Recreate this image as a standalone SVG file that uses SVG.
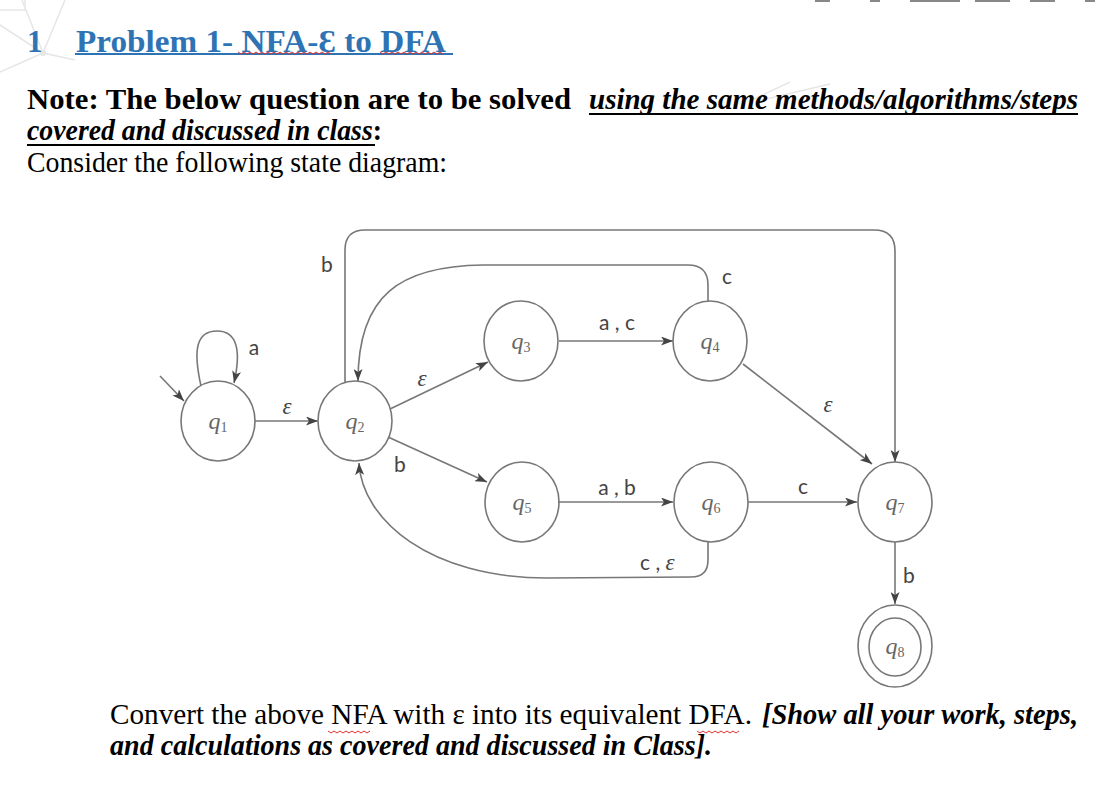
<svg xmlns="http://www.w3.org/2000/svg" width="1104" height="785" viewBox="0 0 1104 785">
<style>
.title{font-family:"Liberation Serif",serif;font-weight:bold;font-size:31px;fill:#2E74B5}
.tx{font-family:"Liberation Serif",serif;font-size:29px;fill:#000}
.b{font-weight:bold}
.bi{font-weight:bold;font-style:italic}
.st{fill:none;stroke:#777;stroke-width:1.6}
.ed{fill:none;stroke:#777;stroke-width:1.6}
.lb{font-family:Lato,"Open Sans",sans-serif;font-size:21px;fill:#444;text-anchor:middle}
.ep{font-family:"Liberation Serif",serif;font-style:italic;font-size:23px;fill:#444;text-anchor:middle}
.q{font-family:"Liberation Serif",serif;font-style:italic;font-size:24px;fill:#666;text-anchor:middle}
.sub{font-style:normal;font-size:14px}
.wm{stroke:#e6e6e6;stroke-width:1.5;fill:none}
.sq{fill:none;stroke:#e03030;stroke-width:1}
</style>
<defs>
<marker id="ah" viewBox="0 0 12 9" refX="12" refY="4.5" markerWidth="12" markerHeight="9" markerUnits="userSpaceOnUse" orient="auto">
<path d="M0,0 L12,4.5 L0,9 L3,4.5 z" fill="#444"/>
</marker>
</defs>
<rect width="1104" height="785" fill="#fff"/>
<g id="decor">
<path class="wm" d="M43,53 L0,25 M43,53 L22,0 M43,53 L65,0 M43,53 L0,72 M43,53 L75,60 M0,10 L25,10 L25,0"/>
<circle cx="43" cy="53" r="3" fill="#e6e6e6"/>
<path class="wm" d="M752,100 L790,82 M762,100 L830,84"/>
<g fill="#888">
<rect x="815" y="0" width="15" height="2"/>
<rect x="870" y="0" width="10" height="2"/>
<rect x="910" y="0" width="50" height="2"/>
<rect x="975" y="0" width="35" height="2"/>
<rect x="1030" y="0" width="25" height="2"/>
<rect x="1085" y="0" width="10" height="2"/>
</g>
</g>
<g id="heading">
<text class="title" x="27" y="52">1</text>
<text class="title" x="76" y="52" textLength="370" lengthAdjust="spacingAndGlyphs">Problem 1- NFA-Ɛ to DFA</text>
<line x1="75" y1="54" x2="453" y2="54" stroke="#2E74B5" stroke-width="2"/>
<path class="sq" d="M238,52 l3,2 l3,-2 l3,2 l3,-2 l3,2 l3,-2 l3,2 l3,-2 l3,2 l3,-2 l3,2 l3,-2 l3,2 l3,-2 l3,2 l3,-2 l3,2 l3,-2 l3,2 l3,-2 l3,2 l3,-2 l3,2 l3,-2 l3,2 l3,-2 l3,2 l3,-2 l3,2 l3,-2 l3,2"/>
<path class="sq" d="M380,52 l3,2 l3,-2 l3,2 l3,-2 l3,2 l3,-2 l3,2 l3,-2 l3,2 l3,-2 l3,2 l3,-2 l3,2 l3,-2 l3,2 l3,-2 l3,2 l3,-2 l3,2 l3,-2 l3,2"/>
</g>
<g id="note">
<text class="tx b" x="27" y="109" textLength="544" lengthAdjust="spacingAndGlyphs">Note: The below question are to be solved</text>
<text class="tx bi" x="589" y="109" textLength="489" lengthAdjust="spacingAndGlyphs">using the same methods/algorithms/steps</text>
<line x1="589" y1="114" x2="1078" y2="114" stroke="#000" stroke-width="2"/>
<text class="tx b" x="27" y="140" textLength="355" lengthAdjust="spacingAndGlyphs"><tspan font-style="italic">covered and discussed in class</tspan>:</text>
<line x1="27" y1="145" x2="375" y2="145" stroke="#000" stroke-width="2"/>
<text class="tx" x="27" y="172" textLength="420" lengthAdjust="spacingAndGlyphs">Consider the following state diagram:</text>
</g>
<g id="connectors">
<path class="ed" d="M160,376 L184,401" marker-end="url(#ah)"/>
<path class="ed" d="M201,386 C193,350 196,331 217,331 C238,331 241,352 234,383" marker-end="url(#ah)"/>
<path class="ed" d="M255,421 L318,421" marker-end="url(#ah)"/>
<path class="ed" d="M390,409 L488,362" marker-end="url(#ah)"/>
<path class="ed" d="M345,382 L345,250 Q345,230 365,230 L874,230 Q895,230 895,251 L895,462" marker-end="url(#ah)"/>
<path class="ed" d="M708,301 L708,285 Q708,265 688,265 L483,265 C400,266 358,295 358,381" marker-end="url(#ah)"/>
<path class="ed" d="M559,341 L673,341" marker-end="url(#ah)"/>
<path class="ed" d="M743,364 L872,464" marker-end="url(#ah)"/>
<path class="ed" d="M388,437 L487,482" marker-end="url(#ah)"/>
<path class="ed" d="M558,502 L673,502" marker-end="url(#ah)"/>
<path class="ed" d="M748,502 L857,502" marker-end="url(#ah)"/>
<path class="ed" d="M708,542 L708,560 Q708,577 691,577 L547,578 C430,578 362,520 359,463" marker-end="url(#ah)"/>
<path class="ed" d="M895,542 L895,604" marker-end="url(#ah)"/>
</g>
<g id="edge-labels">
<text class="lb" x="254" y="355">a</text>
<text class="ep" x="287" y="414">ε</text>
<text class="lb" x="327" y="272">b</text>
<text class="ep" x="422" y="386">ε</text>
<text class="lb" x="617" y="330">a , c</text>
<text class="lb" x="727" y="284">c</text>
<text class="ep" x="828" y="412">ε</text>
<text class="lb" x="400" y="472">b</text>
<text class="lb" x="617" y="495">a , b</text>
<text class="lb" x="803" y="494">c</text>
<text x="640" y="570"><tspan class="lb" style="text-anchor:start">c , </tspan><tspan class="ep" style="text-anchor:start">ε</tspan></text>
<text class="lb" x="909" y="583">b</text>
</g>
<g id="q1"><ellipse class="st" cx="218" cy="421" rx="37" ry="40" fill="#fff"/><text class="q" x="218" y="429">q<tspan class="sub" dy="3">1</tspan></text></g>
<g id="q2"><ellipse class="st" cx="355" cy="421" rx="37" ry="40" fill="#fff"/><text class="q" x="355" y="429">q<tspan class="sub" dy="3">2</tspan></text></g>
<g id="q3"><ellipse class="st" cx="521" cy="341" rx="37" ry="40" fill="#fff"/><text class="q" x="521" y="349">q<tspan class="sub" dy="3">3</tspan></text></g>
<g id="q4"><ellipse class="st" cx="710" cy="341" rx="37" ry="40" fill="#fff"/><text class="q" x="710" y="349">q<tspan class="sub" dy="3">4</tspan></text></g>
<g id="q5"><ellipse class="st" cx="522" cy="502" rx="37" ry="40" fill="#fff"/><text class="q" x="522" y="510">q<tspan class="sub" dy="3">5</tspan></text></g>
<g id="q6"><ellipse class="st" cx="711" cy="502" rx="37" ry="40" fill="#fff"/><text class="q" x="711" y="510">q<tspan class="sub" dy="3">6</tspan></text></g>
<g id="q7"><ellipse class="st" cx="895" cy="502" rx="37" ry="40" fill="#fff"/><text class="q" x="895" y="510">q<tspan class="sub" dy="3">7</tspan></text></g>
<g id="q8"><ellipse class="st" cx="895" cy="646" rx="37" ry="41" fill="#fff"/><ellipse class="st" cx="895" cy="647" rx="26" ry="29"/><text class="q" x="895" y="654">q<tspan class="sub" dy="3">8</tspan></text></g>
<g id="footer">
<text class="tx" x="110" y="724" textLength="642" lengthAdjust="spacingAndGlyphs">Convert the above NFA with ε into its equivalent DFA.</text>
<text class="tx bi" x="762" y="724" textLength="316" lengthAdjust="spacingAndGlyphs">[Show all your work, steps,</text>
<text class="tx bi" x="110" y="755" textLength="602" lengthAdjust="spacingAndGlyphs">and calculations as covered and discussed in Class].</text>
<path class="sq" d="M328,731 l3,2 l3,-2 l3,2 l3,-2 l3,2 l3,-2 l3,2 l3,-2 l3,2 l3,-2 l3,2 l3,-2 l3,2 l3,-2"/>
<path class="sq" d="M697,731 l3,2 l3,-2 l3,2 l3,-2 l3,2 l3,-2 l3,2 l3,-2 l3,2 l3,-2 l3,2 l3,-2 l3,2 l3,-2"/>
</g>
</svg>
